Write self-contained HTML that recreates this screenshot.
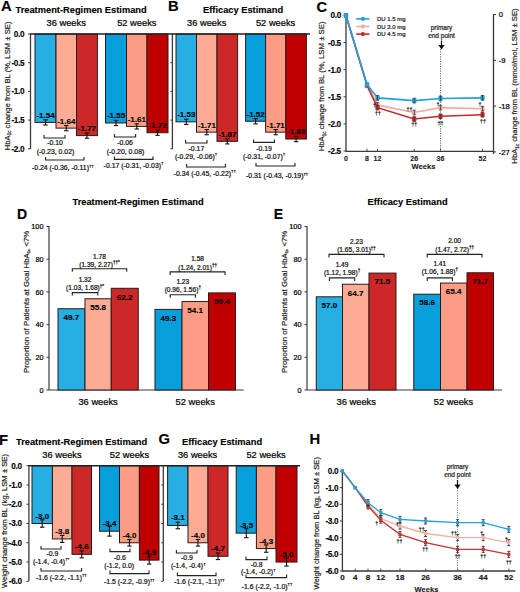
<!DOCTYPE html>
<html><head><meta charset="utf-8"><style>
html,body{margin:0;padding:0;background:#fff;}
svg{display:block;font-family:"Liberation Sans", sans-serif;}
</style></head><body>
<svg width="520" height="592" viewBox="0 0 520 592">
<rect x="0" y="0" width="520" height="592" fill="#fff"/>
<text x="1" y="11.2" font-size="14.8" font-weight="bold" text-anchor="start" fill="#000" stroke="#000" stroke-width="0.12" >A</text>
<text x="15.5" y="12.6" font-size="9.3" font-weight="bold" text-anchor="start" fill="#000" stroke="#000" stroke-width="0.12" >Treatment-Regimen Estimand</text>
<text x="66.2" y="25.6" font-size="9.3" font-weight="normal" text-anchor="middle" fill="#000" stroke="#000" stroke-width="0.22" >36 weeks</text>
<text x="136.8" y="25.6" font-size="9.3" font-weight="normal" text-anchor="middle" fill="#000" stroke="#000" stroke-width="0.22" >52 weeks</text>
<text x="0" y="0" transform="translate(9.6,85.9) rotate(-90)" font-size="7.7" font-weight="normal" text-anchor="middle" fill="#222" stroke="#222" stroke-width="0.2">HbA<tspan font-size="4.5" dy="1.5">1c</tspan><tspan dy="-1.5"> change from BL (%, LSM ± SE)</tspan></text>
<line x1="30.5" y1="33.5" x2="30.5" y2="149" stroke="#3a3a3a" stroke-width="1.3" />
<line x1="28.0" y1="34.0" x2="30.5" y2="34.0" stroke="#3a3a3a" stroke-width="1" />
<text x="24.3" y="36.9" font-size="8.2" font-weight="bold" text-anchor="end" fill="#000" stroke="#000" stroke-width="0.12" letter-spacing="-0.3">0.0</text>
<line x1="28.0" y1="62.7" x2="30.5" y2="62.7" stroke="#3a3a3a" stroke-width="1" />
<text x="24.3" y="65.60000000000001" font-size="8.2" font-weight="bold" text-anchor="end" fill="#000" stroke="#000" stroke-width="0.12" letter-spacing="-0.3">-0.5</text>
<line x1="28.0" y1="91.4" x2="30.5" y2="91.4" stroke="#3a3a3a" stroke-width="1" />
<text x="24.3" y="94.30000000000001" font-size="8.2" font-weight="bold" text-anchor="end" fill="#000" stroke="#000" stroke-width="0.12" letter-spacing="-0.3">-1.0</text>
<line x1="28.0" y1="120.1" x2="30.5" y2="120.1" stroke="#3a3a3a" stroke-width="1" />
<text x="24.3" y="123.0" font-size="8.2" font-weight="bold" text-anchor="end" fill="#000" stroke="#000" stroke-width="0.12" letter-spacing="-0.3">-1.5</text>
<line x1="28.0" y1="148.8" x2="30.5" y2="148.8" stroke="#3a3a3a" stroke-width="1" />
<text x="24.3" y="151.70000000000002" font-size="8.2" font-weight="bold" text-anchor="end" fill="#000" stroke="#000" stroke-width="0.12" letter-spacing="-0.3">-2.0</text>
<rect x="35" y="34" width="21" height="88.396" fill="#27aee3" stroke="#2a1a1a" stroke-width="1"/>
<rect x="56" y="34" width="20.5" height="94.136" fill="#fcac94" stroke="#2a1a1a" stroke-width="1"/>
<rect x="76.5" y="34" width="20.900000000000006" height="101.59800000000001" fill="#cc2828" stroke="#2a1a1a" stroke-width="1"/>
<text x="45.5" y="117.796" font-size="8.0" font-weight="bold" text-anchor="middle" fill="#000" stroke="#000" stroke-width="0.12" >-1.54</text>
<line x1="45.5" y1="119.796" x2="45.5" y2="124.996" stroke="#111" stroke-width="1.1" />
<line x1="43.3" y1="119.796" x2="47.7" y2="119.796" stroke="#111" stroke-width="1.1" />
<line x1="43.3" y1="124.996" x2="47.7" y2="124.996" stroke="#111" stroke-width="1.1" />
<text x="66.25" y="123.536" font-size="8.0" font-weight="bold" text-anchor="middle" fill="#000" stroke="#000" stroke-width="0.12" >-1.64</text>
<line x1="66.25" y1="125.536" x2="66.25" y2="130.736" stroke="#111" stroke-width="1.1" />
<line x1="64.05" y1="125.536" x2="68.45" y2="125.536" stroke="#111" stroke-width="1.1" />
<line x1="64.05" y1="130.736" x2="68.45" y2="130.736" stroke="#111" stroke-width="1.1" />
<text x="86.95" y="130.99800000000002" font-size="8.0" font-weight="bold" text-anchor="middle" fill="#000" stroke="#000" stroke-width="0.12" >-1.77</text>
<line x1="86.95" y1="132.99800000000002" x2="86.95" y2="138.198" stroke="#111" stroke-width="1.1" />
<line x1="84.75" y1="132.99800000000002" x2="89.15" y2="132.99800000000002" stroke="#111" stroke-width="1.1" />
<line x1="84.75" y1="138.198" x2="89.15" y2="138.198" stroke="#111" stroke-width="1.1" />
<rect x="105.5" y="34" width="21.0" height="88.97" fill="#069fdc" stroke="#2a1a1a" stroke-width="1"/>
<rect x="126.5" y="34" width="20.5" height="92.414" fill="#fc9c84" stroke="#2a1a1a" stroke-width="1"/>
<rect x="147" y="34" width="21" height="98.72800000000001" fill="#c00000" stroke="#2a1a1a" stroke-width="1"/>
<text x="116.0" y="118.37" font-size="8.0" font-weight="bold" text-anchor="middle" fill="#000" stroke="#000" stroke-width="0.12" >-1.55</text>
<line x1="116.0" y1="120.37" x2="116.0" y2="125.57" stroke="#111" stroke-width="1.1" />
<line x1="113.8" y1="120.37" x2="118.2" y2="120.37" stroke="#111" stroke-width="1.1" />
<line x1="113.8" y1="125.57" x2="118.2" y2="125.57" stroke="#111" stroke-width="1.1" />
<text x="136.75" y="121.81400000000001" font-size="8.0" font-weight="bold" text-anchor="middle" fill="#000" stroke="#000" stroke-width="0.12" >-1.61</text>
<line x1="136.75" y1="123.81400000000001" x2="136.75" y2="129.014" stroke="#111" stroke-width="1.1" />
<line x1="134.55" y1="123.81400000000001" x2="138.95" y2="123.81400000000001" stroke="#111" stroke-width="1.1" />
<line x1="134.55" y1="129.014" x2="138.95" y2="129.014" stroke="#111" stroke-width="1.1" />
<text x="157.5" y="128.12800000000001" font-size="8.0" font-weight="bold" text-anchor="middle" fill="#000" stroke="#000" stroke-width="0.12" >-1.72</text>
<line x1="157.5" y1="130.12800000000001" x2="157.5" y2="135.328" stroke="#111" stroke-width="1.1" />
<line x1="155.3" y1="130.12800000000001" x2="159.7" y2="130.12800000000001" stroke="#111" stroke-width="1.1" />
<line x1="155.3" y1="135.328" x2="159.7" y2="135.328" stroke="#111" stroke-width="1.1" />
<line x1="30.5" y1="34" x2="172.4" y2="34" stroke="#222" stroke-width="1.6" />
<path d="M44 135 V138 H65 V135" fill="none" stroke="#222" stroke-width="1.1"/>
<text x="55" y="145" font-size="6.9" font-weight="normal" text-anchor="middle" fill="#111" stroke="#111" stroke-width="0.22" >-0.10</text>
<text x="55.5" y="154" font-size="6.9" font-weight="normal" text-anchor="middle" fill="#111" stroke="#111" stroke-width="0.22" >(-0.23, 0.02)</text>
<path d="M45.6 157 V160 H84 V157" fill="none" stroke="#222" stroke-width="1.1"/>
<text x="32" y="170" font-size="6.9" font-weight="normal" text-anchor="start" fill="#111" stroke="#111" stroke-width="0.22" >-0.24 (-0.36, -0.11)<tspan font-size="4.3" dy="-2.4">††</tspan></text>
<path d="M114.4 134 V137 H135.6 V134" fill="none" stroke="#222" stroke-width="1.1"/>
<text x="125" y="144.5" font-size="6.9" font-weight="normal" text-anchor="middle" fill="#111" stroke="#111" stroke-width="0.22" >-0.06</text>
<text x="125.5" y="153.5" font-size="6.9" font-weight="normal" text-anchor="middle" fill="#111" stroke="#111" stroke-width="0.22" >(-0.20, 0.08)</text>
<path d="M114.4 156.4 V159.4 H153 V156.4" fill="none" stroke="#222" stroke-width="1.1"/>
<text x="103.6" y="167.5" font-size="6.9" font-weight="normal" text-anchor="start" fill="#111" stroke="#111" stroke-width="0.22" >-0.17 (-0.31, -0.03)<tspan font-size="4.3" dy="-2.4">†</tspan></text>
<text x="168" y="11.2" font-size="14.8" font-weight="bold" text-anchor="start" fill="#000" stroke="#000" stroke-width="0.12" >B</text>
<text x="203" y="12.6" font-size="9.3" font-weight="bold" text-anchor="start" fill="#000" stroke="#000" stroke-width="0.12" >Efficacy Estimand</text>
<text x="206.7" y="25.6" font-size="9.3" font-weight="normal" text-anchor="middle" fill="#000" stroke="#000" stroke-width="0.22" >36 weeks</text>
<text x="275.6" y="25.6" font-size="9.3" font-weight="normal" text-anchor="middle" fill="#000" stroke="#000" stroke-width="0.22" >52 weeks</text>
<line x1="172.4" y1="33.5" x2="172.4" y2="149" stroke="#3a3a3a" stroke-width="1.3" />
<line x1="170.4" y1="62.7" x2="172.4" y2="62.7" stroke="#3a3a3a" stroke-width="1" />
<line x1="170.4" y1="91.4" x2="172.4" y2="91.4" stroke="#3a3a3a" stroke-width="1" />
<line x1="170.4" y1="120.1" x2="172.4" y2="120.1" stroke="#3a3a3a" stroke-width="1" />
<line x1="170.4" y1="148.8" x2="172.4" y2="148.8" stroke="#3a3a3a" stroke-width="1" />
<rect x="176" y="34" width="20.5" height="87.822" fill="#27aee3" stroke="#2a1a1a" stroke-width="1"/>
<rect x="196.5" y="34" width="20.5" height="98.154" fill="#fcac94" stroke="#2a1a1a" stroke-width="1"/>
<rect x="217" y="34" width="20.599999999999994" height="107.33800000000002" fill="#cc2828" stroke="#2a1a1a" stroke-width="1"/>
<text x="186.25" y="117.22200000000001" font-size="8.0" font-weight="bold" text-anchor="middle" fill="#000" stroke="#000" stroke-width="0.12" >-1.53</text>
<line x1="186.25" y1="119.22200000000001" x2="186.25" y2="124.422" stroke="#111" stroke-width="1.1" />
<line x1="184.05" y1="119.22200000000001" x2="188.45" y2="119.22200000000001" stroke="#111" stroke-width="1.1" />
<line x1="184.05" y1="124.422" x2="188.45" y2="124.422" stroke="#111" stroke-width="1.1" />
<text x="206.75" y="127.554" font-size="8.0" font-weight="bold" text-anchor="middle" fill="#000" stroke="#000" stroke-width="0.12" >-1.71</text>
<line x1="206.75" y1="129.554" x2="206.75" y2="134.754" stroke="#111" stroke-width="1.1" />
<line x1="204.55" y1="129.554" x2="208.95" y2="129.554" stroke="#111" stroke-width="1.1" />
<line x1="204.55" y1="134.754" x2="208.95" y2="134.754" stroke="#111" stroke-width="1.1" />
<text x="227.3" y="136.73800000000003" font-size="8.0" font-weight="bold" text-anchor="middle" fill="#000" stroke="#000" stroke-width="0.12" >-1.87</text>
<line x1="227.3" y1="138.73800000000003" x2="227.3" y2="143.93800000000002" stroke="#111" stroke-width="1.1" />
<line x1="225.10000000000002" y1="138.73800000000003" x2="229.5" y2="138.73800000000003" stroke="#111" stroke-width="1.1" />
<line x1="225.10000000000002" y1="143.93800000000002" x2="229.5" y2="143.93800000000002" stroke="#111" stroke-width="1.1" />
<rect x="245.6" y="34" width="20.00000000000003" height="87.248" fill="#069fdc" stroke="#2a1a1a" stroke-width="1"/>
<rect x="265.6" y="34" width="20.19999999999999" height="98.154" fill="#fc9c84" stroke="#2a1a1a" stroke-width="1"/>
<rect x="285.8" y="34" width="20.599999999999966" height="105.042" fill="#c00000" stroke="#2a1a1a" stroke-width="1"/>
<text x="255.60000000000002" y="116.64800000000001" font-size="8.0" font-weight="bold" text-anchor="middle" fill="#000" stroke="#000" stroke-width="0.12" >-1.52</text>
<line x1="255.60000000000002" y1="118.64800000000001" x2="255.60000000000002" y2="123.848" stroke="#111" stroke-width="1.1" />
<line x1="253.40000000000003" y1="118.64800000000001" x2="257.8" y2="118.64800000000001" stroke="#111" stroke-width="1.1" />
<line x1="253.40000000000003" y1="123.848" x2="257.8" y2="123.848" stroke="#111" stroke-width="1.1" />
<text x="275.70000000000005" y="127.554" font-size="8.0" font-weight="bold" text-anchor="middle" fill="#000" stroke="#000" stroke-width="0.12" >-1.71</text>
<line x1="275.70000000000005" y1="129.554" x2="275.70000000000005" y2="134.754" stroke="#111" stroke-width="1.1" />
<line x1="273.50000000000006" y1="129.554" x2="277.90000000000003" y2="129.554" stroke="#111" stroke-width="1.1" />
<line x1="273.50000000000006" y1="134.754" x2="277.90000000000003" y2="134.754" stroke="#111" stroke-width="1.1" />
<text x="296.1" y="134.442" font-size="8.0" font-weight="bold" text-anchor="middle" fill="#000" stroke="#000" stroke-width="0.12" >-1.83</text>
<line x1="296.1" y1="136.442" x2="296.1" y2="141.642" stroke="#111" stroke-width="1.1" />
<line x1="293.90000000000003" y1="136.442" x2="298.3" y2="136.442" stroke="#111" stroke-width="1.1" />
<line x1="293.90000000000003" y1="141.642" x2="298.3" y2="141.642" stroke="#111" stroke-width="1.1" />
<line x1="172.4" y1="34" x2="310" y2="34" stroke="#222" stroke-width="1.6" />
<path d="M185.6 140 V143 H207 V140" fill="none" stroke="#222" stroke-width="1.1"/>
<text x="196.4" y="150.5" font-size="6.9" font-weight="normal" text-anchor="middle" fill="#111" stroke="#111" stroke-width="0.22" >-0.17</text>
<text x="175" y="158.5" font-size="6.9" font-weight="normal" text-anchor="start" fill="#111" stroke="#111" stroke-width="0.22" >(-0.29, -0.06)<tspan font-size="4.3" dy="-2.4">†</tspan></text>
<path d="M186.6 164 V167 H225.4 V164" fill="none" stroke="#222" stroke-width="1.1"/>
<text x="173.6" y="175.5" font-size="6.9" font-weight="normal" text-anchor="start" fill="#111" stroke="#111" stroke-width="0.22" >-0.34 (-0.45, -0.22)<tspan font-size="4.3" dy="-2.4">††</tspan></text>
<path d="M253.6 139.4 V142.4 H274.4 V139.4" fill="none" stroke="#222" stroke-width="1.1"/>
<text x="264" y="150.5" font-size="6.9" font-weight="normal" text-anchor="middle" fill="#111" stroke="#111" stroke-width="0.22" >-0.19</text>
<text x="243" y="158.5" font-size="6.9" font-weight="normal" text-anchor="start" fill="#111" stroke="#111" stroke-width="0.22" >(-0.31, -0.07)<tspan font-size="4.3" dy="-2.4">†</tspan></text>
<path d="M256 163 V166 H295 V163" fill="none" stroke="#222" stroke-width="1.1"/>
<text x="246" y="178" font-size="6.9" font-weight="normal" text-anchor="start" fill="#111" stroke="#111" stroke-width="0.22" >-0.31 (-0.43, -0.19)<tspan font-size="4.3" dy="-2.4">††</tspan></text>
<text x="316.5" y="11.8" font-size="14.8" font-weight="bold" text-anchor="start" fill="#000" stroke="#000" stroke-width="0.12" >C</text>
<line x1="346" y1="15.0" x2="346" y2="151.8" stroke="#3a3a3a" stroke-width="1.3" />
<line x1="346" y1="151.4" x2="493.5" y2="151.4" stroke="#3a3a3a" stroke-width="1.3" />
<line x1="343.5" y1="15.5" x2="346" y2="15.5" stroke="#3a3a3a" stroke-width="1" />
<text x="340.9" y="18.4" font-size="8.2" font-weight="bold" text-anchor="end" fill="#000" stroke="#000" stroke-width="0.12" letter-spacing="-0.3">0.0</text>
<line x1="343.5" y1="42.6" x2="346" y2="42.6" stroke="#3a3a3a" stroke-width="1" />
<text x="340.9" y="45.5" font-size="8.2" font-weight="bold" text-anchor="end" fill="#000" stroke="#000" stroke-width="0.12" letter-spacing="-0.3">-0.5</text>
<line x1="343.5" y1="69.7" x2="346" y2="69.7" stroke="#3a3a3a" stroke-width="1" />
<text x="340.9" y="72.60000000000001" font-size="8.2" font-weight="bold" text-anchor="end" fill="#000" stroke="#000" stroke-width="0.12" letter-spacing="-0.3">-1.0</text>
<line x1="343.5" y1="96.80000000000001" x2="346" y2="96.80000000000001" stroke="#3a3a3a" stroke-width="1" />
<text x="340.9" y="99.70000000000002" font-size="8.2" font-weight="bold" text-anchor="end" fill="#000" stroke="#000" stroke-width="0.12" letter-spacing="-0.3">-1.5</text>
<line x1="343.5" y1="123.9" x2="346" y2="123.9" stroke="#3a3a3a" stroke-width="1" />
<text x="340.9" y="126.80000000000001" font-size="8.2" font-weight="bold" text-anchor="end" fill="#000" stroke="#000" stroke-width="0.12" letter-spacing="-0.3">-2.0</text>
<line x1="343.5" y1="151.0" x2="346" y2="151.0" stroke="#3a3a3a" stroke-width="1" />
<text x="340.9" y="153.9" font-size="8.2" font-weight="bold" text-anchor="end" fill="#000" stroke="#000" stroke-width="0.12" letter-spacing="-0.3">-2.5</text>
<text x="346.0" y="161" font-size="7" font-weight="bold" text-anchor="middle" fill="#222" stroke="#222" stroke-width="0.12" >0</text>
<line x1="367.0" y1="148.8" x2="367.0" y2="151.4" stroke="#3a3a3a" stroke-width="0.9" />
<text x="367.0" y="161" font-size="7" font-weight="bold" text-anchor="middle" fill="#222" stroke="#222" stroke-width="0.12" >8</text>
<line x1="377.5" y1="148.8" x2="377.5" y2="151.4" stroke="#3a3a3a" stroke-width="0.9" />
<text x="377.5" y="161" font-size="7" font-weight="bold" text-anchor="middle" fill="#222" stroke="#222" stroke-width="0.12" >12</text>
<line x1="414.25" y1="148.8" x2="414.25" y2="151.4" stroke="#3a3a3a" stroke-width="0.9" />
<text x="414.25" y="161" font-size="7" font-weight="bold" text-anchor="middle" fill="#222" stroke="#222" stroke-width="0.12" >26</text>
<line x1="440.5" y1="148.8" x2="440.5" y2="151.4" stroke="#3a3a3a" stroke-width="0.9" />
<text x="440.5" y="161" font-size="7" font-weight="bold" text-anchor="middle" fill="#222" stroke="#222" stroke-width="0.12" >36</text>
<line x1="482.5" y1="148.8" x2="482.5" y2="151.4" stroke="#3a3a3a" stroke-width="0.9" />
<text x="482.5" y="161" font-size="7" font-weight="bold" text-anchor="middle" fill="#222" stroke="#222" stroke-width="0.12" >52</text>
<text x="423.5" y="168.8" font-size="7.6" font-weight="bold" text-anchor="middle" fill="#222" stroke="#222" stroke-width="0.12" >Weeks</text>
<text x="0" y="0" transform="translate(324,86.4) rotate(-90)" font-size="7.75" font-weight="normal" text-anchor="middle" fill="#222" stroke="#222" stroke-width="0.2">HbA<tspan font-size="4.5" dy="1.5">1c</tspan><tspan dy="-1.5"> change from BL (%, LSM ± SE)</tspan></text>
<line x1="493.5" y1="14" x2="493.5" y2="154" stroke="#3a3a3a" stroke-width="1.3" />
<line x1="493.5" y1="14.5" x2="496" y2="14.5" stroke="#3a3a3a" stroke-width="1" />
<text x="498.8" y="17.2" font-size="7.6" font-weight="normal" text-anchor="start" fill="#000" stroke="#000" stroke-width="0.22" >0</text>
<line x1="493.5" y1="60.3" x2="496" y2="60.3" stroke="#3a3a3a" stroke-width="1" />
<text x="498.8" y="63.0" font-size="7.6" font-weight="normal" text-anchor="start" fill="#000" stroke="#000" stroke-width="0.22" >-9</text>
<line x1="493.5" y1="106.1" x2="496" y2="106.1" stroke="#3a3a3a" stroke-width="1" />
<text x="498.8" y="108.8" font-size="7.6" font-weight="normal" text-anchor="start" fill="#000" stroke="#000" stroke-width="0.22" >-18</text>
<line x1="493.5" y1="151.89999999999998" x2="496" y2="151.89999999999998" stroke="#3a3a3a" stroke-width="1" />
<text x="498.8" y="154.59999999999997" font-size="7.6" font-weight="normal" text-anchor="start" fill="#000" stroke="#000" stroke-width="0.22" >-27</text>
<text x="0" y="0" transform="translate(517.3,86) rotate(-90)" font-size="7.7" font-weight="normal" text-anchor="middle" fill="#222" stroke="#222" stroke-width="0.2">HbA<tspan font-size="4.5" dy="1.5">1c</tspan><tspan dy="-1.5"> change from BL (mmol/mol, LSM ± SE)</tspan></text>
<line x1="440.5" y1="49" x2="440.5" y2="151" stroke="#3a6ea0" stroke-width="0.9" stroke-dasharray="1.2,1.2"/>
<text x="441.5" y="30" font-size="6.5" font-weight="normal" text-anchor="middle" fill="#222" stroke="#222" stroke-width="0.22" >primary</text>
<text x="441.5" y="38" font-size="6.5" font-weight="normal" text-anchor="middle" fill="#222" stroke="#222" stroke-width="0.22" >end point</text>
<line x1="441.5" y1="40.5" x2="441.5" y2="46" stroke="#111" stroke-width="1.2" />
<path d="M438.3 45 L444.7 45 L441.5 49.5 Z" fill="#111"/>
<polyline points="346.00,15.50 367.00,84.88 377.50,104.93 414.25,112.52 440.50,107.64 482.50,108.72" fill="none" stroke="#f2a8a0" stroke-width="1.6"/>
<rect x="343.9" y="13.2" width="4.2" height="4.6" fill="#f2a8a0"/>
<rect x="364.9" y="82.57600000000001" width="4.2" height="4.6" fill="#f2a8a0"/>
<rect x="375.4" y="102.63000000000001" width="4.2" height="4.6" fill="#f2a8a0"/>
<line x1="377.5" y1="102.53" x2="377.5" y2="107.33000000000001" stroke="#3a3a3a" stroke-width="0.8" />
<line x1="376.0" y1="102.53" x2="379.0" y2="102.53" stroke="#3a3a3a" stroke-width="0.8" />
<line x1="376.0" y1="107.33000000000001" x2="379.0" y2="107.33000000000001" stroke="#3a3a3a" stroke-width="0.8" />
<rect x="412.15" y="110.218" width="4.2" height="4.6" fill="#f2a8a0"/>
<line x1="414.25" y1="110.118" x2="414.25" y2="114.918" stroke="#3a3a3a" stroke-width="0.8" />
<line x1="412.75" y1="110.118" x2="415.75" y2="110.118" stroke="#3a3a3a" stroke-width="0.8" />
<line x1="412.75" y1="114.918" x2="415.75" y2="114.918" stroke="#3a3a3a" stroke-width="0.8" />
<rect x="438.4" y="105.34" width="4.2" height="4.6" fill="#f2a8a0"/>
<line x1="440.5" y1="105.24" x2="440.5" y2="110.04" stroke="#3a3a3a" stroke-width="0.8" />
<line x1="439.0" y1="105.24" x2="442.0" y2="105.24" stroke="#3a3a3a" stroke-width="0.8" />
<line x1="439.0" y1="110.04" x2="442.0" y2="110.04" stroke="#3a3a3a" stroke-width="0.8" />
<rect x="480.4" y="106.424" width="4.2" height="4.6" fill="#f2a8a0"/>
<line x1="482.5" y1="106.324" x2="482.5" y2="111.12400000000001" stroke="#3a3a3a" stroke-width="0.8" />
<line x1="481.0" y1="106.324" x2="484.0" y2="106.324" stroke="#3a3a3a" stroke-width="0.8" />
<line x1="481.0" y1="111.12400000000001" x2="484.0" y2="111.12400000000001" stroke="#3a3a3a" stroke-width="0.8" />
<polyline points="346.00,15.50 367.00,85.42 377.50,107.64 414.25,119.02 440.50,116.31 482.50,114.69" fill="none" stroke="#c82828" stroke-width="1.6"/>
<rect x="343.9" y="13.2" width="4.2" height="4.6" fill="#c82828"/>
<rect x="364.9" y="83.11800000000001" width="4.2" height="4.6" fill="#c82828"/>
<rect x="375.4" y="105.34" width="4.2" height="4.6" fill="#c82828"/>
<line x1="377.5" y1="105.24" x2="377.5" y2="110.04" stroke="#3a3a3a" stroke-width="0.8" />
<line x1="376.0" y1="105.24" x2="379.0" y2="105.24" stroke="#3a3a3a" stroke-width="0.8" />
<line x1="376.0" y1="110.04" x2="379.0" y2="110.04" stroke="#3a3a3a" stroke-width="0.8" />
<rect x="412.15" y="116.72200000000001" width="4.2" height="4.6" fill="#c82828"/>
<line x1="414.25" y1="116.622" x2="414.25" y2="121.42200000000001" stroke="#3a3a3a" stroke-width="0.8" />
<line x1="412.75" y1="116.622" x2="415.75" y2="116.622" stroke="#3a3a3a" stroke-width="0.8" />
<line x1="412.75" y1="121.42200000000001" x2="415.75" y2="121.42200000000001" stroke="#3a3a3a" stroke-width="0.8" />
<rect x="438.4" y="114.01200000000001" width="4.2" height="4.6" fill="#c82828"/>
<line x1="440.5" y1="113.912" x2="440.5" y2="118.71200000000002" stroke="#3a3a3a" stroke-width="0.8" />
<line x1="439.0" y1="113.912" x2="442.0" y2="113.912" stroke="#3a3a3a" stroke-width="0.8" />
<line x1="439.0" y1="118.71200000000002" x2="442.0" y2="118.71200000000002" stroke="#3a3a3a" stroke-width="0.8" />
<rect x="480.4" y="112.38600000000001" width="4.2" height="4.6" fill="#c82828"/>
<line x1="482.5" y1="112.286" x2="482.5" y2="117.08600000000001" stroke="#3a3a3a" stroke-width="0.8" />
<line x1="481.0" y1="112.286" x2="484.0" y2="112.286" stroke="#3a3a3a" stroke-width="0.8" />
<line x1="481.0" y1="117.08600000000001" x2="484.0" y2="117.08600000000001" stroke="#3a3a3a" stroke-width="0.8" />
<polyline points="346.00,15.50 367.00,84.33 377.50,97.88 414.25,100.59 440.50,98.43 482.50,97.88" fill="none" stroke="#22a0d8" stroke-width="1.6"/>
<rect x="343.9" y="13.2" width="4.2" height="4.6" fill="#22a0d8"/>
<rect x="364.9" y="82.034" width="4.2" height="4.6" fill="#22a0d8"/>
<rect x="375.4" y="95.584" width="4.2" height="4.6" fill="#22a0d8"/>
<line x1="377.5" y1="95.484" x2="377.5" y2="100.284" stroke="#3a3a3a" stroke-width="0.8" />
<line x1="376.0" y1="95.484" x2="379.0" y2="95.484" stroke="#3a3a3a" stroke-width="0.8" />
<line x1="376.0" y1="100.284" x2="379.0" y2="100.284" stroke="#3a3a3a" stroke-width="0.8" />
<rect x="412.15" y="98.29400000000001" width="4.2" height="4.6" fill="#22a0d8"/>
<line x1="414.25" y1="98.194" x2="414.25" y2="102.99400000000001" stroke="#3a3a3a" stroke-width="0.8" />
<line x1="412.75" y1="98.194" x2="415.75" y2="98.194" stroke="#3a3a3a" stroke-width="0.8" />
<line x1="412.75" y1="102.99400000000001" x2="415.75" y2="102.99400000000001" stroke="#3a3a3a" stroke-width="0.8" />
<rect x="438.4" y="96.126" width="4.2" height="4.6" fill="#22a0d8"/>
<line x1="440.5" y1="96.026" x2="440.5" y2="100.82600000000001" stroke="#3a3a3a" stroke-width="0.8" />
<line x1="439.0" y1="96.026" x2="442.0" y2="96.026" stroke="#3a3a3a" stroke-width="0.8" />
<line x1="439.0" y1="100.82600000000001" x2="442.0" y2="100.82600000000001" stroke="#3a3a3a" stroke-width="0.8" />
<rect x="480.4" y="95.584" width="4.2" height="4.6" fill="#22a0d8"/>
<line x1="482.5" y1="95.484" x2="482.5" y2="100.284" stroke="#3a3a3a" stroke-width="0.8" />
<line x1="481.0" y1="95.484" x2="484.0" y2="95.484" stroke="#3a3a3a" stroke-width="0.8" />
<line x1="481.0" y1="100.284" x2="484.0" y2="100.284" stroke="#3a3a3a" stroke-width="0.8" />
<text x="374.5" y="107" font-size="5.2" font-weight="normal" text-anchor="middle" fill="#222" stroke="#222" stroke-width="0.22" >†</text>
<text x="378" y="114.5" font-size="5.2" font-weight="normal" text-anchor="middle" fill="#222" stroke="#222" stroke-width="0.22" >††</text>
<text x="409.5" y="110.5" font-size="5.2" font-weight="normal" text-anchor="middle" fill="#222" stroke="#222" stroke-width="0.22" >††</text>
<text x="414.3" y="125.5" font-size="5.2" font-weight="normal" text-anchor="middle" fill="#222" stroke="#222" stroke-width="0.22" >††</text>
<text x="438" y="105.5" font-size="5.2" font-weight="normal" text-anchor="middle" fill="#222" stroke="#222" stroke-width="0.22" >†</text>
<text x="440.5" y="124.5" font-size="5.2" font-weight="normal" text-anchor="middle" fill="#222" stroke="#222" stroke-width="0.22" >††</text>
<text x="480" y="105.5" font-size="5.2" font-weight="normal" text-anchor="middle" fill="#222" stroke="#222" stroke-width="0.22" >†</text>
<text x="483" y="122.5" font-size="5.2" font-weight="normal" text-anchor="middle" fill="#222" stroke="#222" stroke-width="0.22" >††</text>
<line x1="356.2" y1="18.9" x2="369.4" y2="18.9" stroke="#22a0d8" stroke-width="1.6" />
<circle cx="362.9" cy="18.9" r="2.1" fill="#22a0d8"/>
<text x="377" y="21.0" font-size="6" font-weight="normal" text-anchor="start" fill="#222" stroke="#222" stroke-width="0.22" >DU 1.5 mg</text>
<line x1="356.2" y1="26.5" x2="369.4" y2="26.5" stroke="#f2a8a0" stroke-width="1.6" />
<circle cx="362.9" cy="26.5" r="2.1" fill="#f2a8a0"/>
<text x="377" y="28.6" font-size="6" font-weight="normal" text-anchor="start" fill="#222" stroke="#222" stroke-width="0.22" >DU 3.0 mg</text>
<line x1="356.2" y1="34.099999999999994" x2="369.4" y2="34.099999999999994" stroke="#c82828" stroke-width="1.6" />
<circle cx="362.9" cy="34.099999999999994" r="2.1" fill="#c82828"/>
<text x="377" y="36.199999999999996" font-size="6" font-weight="normal" text-anchor="start" fill="#222" stroke="#222" stroke-width="0.22" >DU 4.5 mg</text>
<text x="72.5" y="205" font-size="9.3" font-weight="bold" text-anchor="start" fill="#000" stroke="#000" stroke-width="0.12" >Treatment-Regimen Estimand</text>
<text x="17" y="218.75" font-size="14" font-weight="bold" text-anchor="start" fill="#000" stroke="#000" stroke-width="0.12" >D</text>
<line x1="49" y1="226" x2="49" y2="390" stroke="#3a3a3a" stroke-width="1.2" />
<line x1="49" y1="390" x2="243.75" y2="390" stroke="#3a3a3a" stroke-width="1.2" />
<line x1="46.5" y1="390.0" x2="49" y2="390.0" stroke="#3a3a3a" stroke-width="1" />
<text x="43.5" y="392.6" font-size="7.3" font-weight="normal" text-anchor="end" fill="#000" stroke="#000" stroke-width="0.22" >0</text>
<line x1="46.5" y1="357.3" x2="49" y2="357.3" stroke="#3a3a3a" stroke-width="1" />
<text x="43.5" y="359.90000000000003" font-size="7.3" font-weight="normal" text-anchor="end" fill="#000" stroke="#000" stroke-width="0.22" >20</text>
<line x1="46.5" y1="324.6" x2="49" y2="324.6" stroke="#3a3a3a" stroke-width="1" />
<text x="43.5" y="327.20000000000005" font-size="7.3" font-weight="normal" text-anchor="end" fill="#000" stroke="#000" stroke-width="0.22" >40</text>
<line x1="46.5" y1="291.9" x2="49" y2="291.9" stroke="#3a3a3a" stroke-width="1" />
<text x="43.5" y="294.5" font-size="7.3" font-weight="normal" text-anchor="end" fill="#000" stroke="#000" stroke-width="0.22" >60</text>
<line x1="46.5" y1="259.2" x2="49" y2="259.2" stroke="#3a3a3a" stroke-width="1" />
<text x="43.5" y="261.8" font-size="7.3" font-weight="normal" text-anchor="end" fill="#000" stroke="#000" stroke-width="0.22" >80</text>
<line x1="46.5" y1="226.5" x2="49" y2="226.5" stroke="#3a3a3a" stroke-width="1" />
<text x="43.5" y="229.1" font-size="7.3" font-weight="normal" text-anchor="end" fill="#000" stroke="#000" stroke-width="0.22" >100</text>
<text x="0" y="0" transform="translate(28.6,301.8) rotate(-90)" font-size="7.8" font-weight="normal" text-anchor="middle" fill="#222" stroke="#222" stroke-width="0.2">Proportion of  Patients at Goal HbA<tspan font-size="4.3" dy="1.5">1c</tspan><tspan dy="-1.5"> &lt;7%</tspan></text>
<rect x="58" y="308.7405" width="27" height="81.2595" fill="#27aee3" stroke="#2a1a1a" stroke-width="1"/>
<text x="71.5" y="320.0405" font-size="8.1" font-weight="bold" text-anchor="middle" fill="#000" stroke="#000" stroke-width="0.12" >49.7</text>
<rect x="85" y="298.767" width="26.25" height="91.233" fill="#fcac94" stroke="#2a1a1a" stroke-width="1"/>
<text x="98.125" y="310.067" font-size="8.1" font-weight="bold" text-anchor="middle" fill="#000" stroke="#000" stroke-width="0.12" >55.8</text>
<rect x="111.25" y="288.303" width="27.0" height="101.697" fill="#cc2828" stroke="#2a1a1a" stroke-width="1"/>
<text x="124.75" y="299.603" font-size="8.1" font-weight="bold" text-anchor="middle" fill="#000" stroke="#000" stroke-width="0.12" >62.2</text>
<rect x="155" y="309.3945" width="27" height="80.6055" fill="#069fdc" stroke="#2a1a1a" stroke-width="1"/>
<text x="168.5" y="320.6945" font-size="8.1" font-weight="bold" text-anchor="middle" fill="#000" stroke="#000" stroke-width="0.12" >49.3</text>
<rect x="182" y="301.5465" width="26.5" height="88.45350000000002" fill="#fc9c84" stroke="#2a1a1a" stroke-width="1"/>
<text x="195.25" y="312.8465" font-size="8.1" font-weight="bold" text-anchor="middle" fill="#000" stroke="#000" stroke-width="0.12" >54.1</text>
<rect x="208.5" y="292.881" width="27.0" height="97.11900000000003" fill="#c00000" stroke="#2a1a1a" stroke-width="1"/>
<text x="222.0" y="304.181" font-size="8.1" font-weight="bold" text-anchor="middle" fill="#000" stroke="#000" stroke-width="0.12" >59.4</text>
<text x="98.1" y="405" font-size="9.3" font-weight="normal" text-anchor="middle" fill="#000" stroke="#000" stroke-width="0.22" >36 weeks</text>
<text x="195.25" y="405" font-size="9.3" font-weight="normal" text-anchor="middle" fill="#000" stroke="#000" stroke-width="0.22" >52 weeks</text>
<path d="M72.3 271.8 V268.8 H126.7 V271.8" fill="none" stroke="#222" stroke-width="1.1"/>
<text x="99.5" y="258.7" font-size="6.6" font-weight="normal" text-anchor="middle" fill="#111" stroke="#111" stroke-width="0.22" >1.78</text>
<text x="99.5" y="266.6" font-size="6.6" font-weight="normal" text-anchor="middle" fill="#111" stroke="#111" stroke-width="0.22" >(1.39, 2.27)<tspan font-size="4.5" dy="-2.4">††*</tspan><tspan dy="2.4"></tspan></text>
<path d="M72.3 295.6 V292.6 H97.8 V295.6" fill="none" stroke="#222" stroke-width="1.1"/>
<text x="85.05" y="281.7" font-size="6.6" font-weight="normal" text-anchor="middle" fill="#111" stroke="#111" stroke-width="0.22" >1.32</text>
<text x="85.05" y="290.4" font-size="6.6" font-weight="normal" text-anchor="middle" fill="#111" stroke="#111" stroke-width="0.22" >(1.03, 1.68)<tspan font-size="4.5" dy="-2.4">†*</tspan><tspan dy="2.4"></tspan></text>
<path d="M170.2 274.9 V271.9 H225 V274.9" fill="none" stroke="#222" stroke-width="1.1"/>
<text x="197.6" y="261.3" font-size="6.6" font-weight="normal" text-anchor="middle" fill="#111" stroke="#111" stroke-width="0.22" >1.58</text>
<text x="197.6" y="269.5" font-size="6.6" font-weight="normal" text-anchor="middle" fill="#111" stroke="#111" stroke-width="0.22" >(1.24, 2.01)<tspan font-size="4.5" dy="-2.4">††</tspan><tspan dy="2.4"></tspan></text>
<path d="M170.2 297.7 V294.7 H195.4 V297.7" fill="none" stroke="#222" stroke-width="1.1"/>
<text x="182.8" y="283.9" font-size="6.6" font-weight="normal" text-anchor="middle" fill="#111" stroke="#111" stroke-width="0.22" >1.23</text>
<text x="182.8" y="291.8" font-size="6.6" font-weight="normal" text-anchor="middle" fill="#111" stroke="#111" stroke-width="0.22" >(0.96, 1.56)<tspan font-size="4.5" dy="-2.4">†</tspan><tspan dy="2.4"></tspan></text>
<text x="367.5" y="205" font-size="9.3" font-weight="bold" text-anchor="start" fill="#000" stroke="#000" stroke-width="0.12" >Efficacy Estimand</text>
<text x="273.75" y="218.75" font-size="14" font-weight="bold" text-anchor="start" fill="#000" stroke="#000" stroke-width="0.12" >E</text>
<line x1="307" y1="226" x2="307" y2="390" stroke="#3a3a3a" stroke-width="1.2" />
<line x1="307" y1="390" x2="502" y2="390" stroke="#3a3a3a" stroke-width="1.2" />
<line x1="304.5" y1="390.0" x2="307" y2="390.0" stroke="#3a3a3a" stroke-width="1" />
<text x="301.5" y="392.6" font-size="7.3" font-weight="normal" text-anchor="end" fill="#000" stroke="#000" stroke-width="0.22" >0</text>
<line x1="304.5" y1="357.3" x2="307" y2="357.3" stroke="#3a3a3a" stroke-width="1" />
<text x="301.5" y="359.90000000000003" font-size="7.3" font-weight="normal" text-anchor="end" fill="#000" stroke="#000" stroke-width="0.22" >20</text>
<line x1="304.5" y1="324.6" x2="307" y2="324.6" stroke="#3a3a3a" stroke-width="1" />
<text x="301.5" y="327.20000000000005" font-size="7.3" font-weight="normal" text-anchor="end" fill="#000" stroke="#000" stroke-width="0.22" >40</text>
<line x1="304.5" y1="291.9" x2="307" y2="291.9" stroke="#3a3a3a" stroke-width="1" />
<text x="301.5" y="294.5" font-size="7.3" font-weight="normal" text-anchor="end" fill="#000" stroke="#000" stroke-width="0.22" >60</text>
<line x1="304.5" y1="259.2" x2="307" y2="259.2" stroke="#3a3a3a" stroke-width="1" />
<text x="301.5" y="261.8" font-size="7.3" font-weight="normal" text-anchor="end" fill="#000" stroke="#000" stroke-width="0.22" >80</text>
<line x1="304.5" y1="226.5" x2="307" y2="226.5" stroke="#3a3a3a" stroke-width="1" />
<text x="301.5" y="229.1" font-size="7.3" font-weight="normal" text-anchor="end" fill="#000" stroke="#000" stroke-width="0.22" >100</text>
<text x="0" y="0" transform="translate(286.8,301.8) rotate(-90)" font-size="7.8" font-weight="normal" text-anchor="middle" fill="#222" stroke="#222" stroke-width="0.2">Proportion of  Patients at Goal HbA<tspan font-size="4.3" dy="1.5">1c</tspan><tspan dy="-1.5"> &lt;7%</tspan></text>
<rect x="316.25" y="296.805" width="26.25" height="93.195" fill="#27aee3" stroke="#2a1a1a" stroke-width="1"/>
<text x="329.375" y="308.105" font-size="8.1" font-weight="bold" text-anchor="middle" fill="#000" stroke="#000" stroke-width="0.12" >57.0</text>
<rect x="342.5" y="284.2155" width="26.5" height="105.78449999999998" fill="#fcac94" stroke="#2a1a1a" stroke-width="1"/>
<text x="355.75" y="295.51550000000003" font-size="8.1" font-weight="bold" text-anchor="middle" fill="#000" stroke="#000" stroke-width="0.12" >64.7</text>
<rect x="369" y="273.09749999999997" width="27" height="116.90250000000003" fill="#cc2828" stroke="#2a1a1a" stroke-width="1"/>
<text x="382.5" y="284.3975" font-size="8.1" font-weight="bold" text-anchor="middle" fill="#000" stroke="#000" stroke-width="0.12" >71.5</text>
<rect x="413.75" y="294.18899999999996" width="26.75" height="95.81100000000004" fill="#069fdc" stroke="#2a1a1a" stroke-width="1"/>
<text x="427.125" y="305.489" font-size="8.1" font-weight="bold" text-anchor="middle" fill="#000" stroke="#000" stroke-width="0.12" >58.6</text>
<rect x="440.5" y="283.07099999999997" width="26.5" height="106.92900000000003" fill="#fc9c84" stroke="#2a1a1a" stroke-width="1"/>
<text x="453.75" y="294.371" font-size="8.1" font-weight="bold" text-anchor="middle" fill="#000" stroke="#000" stroke-width="0.12" >65.4</text>
<rect x="467" y="272.77049999999997" width="26.5" height="117.22950000000003" fill="#c00000" stroke="#2a1a1a" stroke-width="1"/>
<text x="480.25" y="284.0705" font-size="8.1" font-weight="bold" text-anchor="middle" fill="#000" stroke="#000" stroke-width="0.12" >71.7</text>
<text x="356.25" y="405" font-size="9.3" font-weight="normal" text-anchor="middle" fill="#000" stroke="#000" stroke-width="0.22" >36 weeks</text>
<text x="453.5" y="405" font-size="9.3" font-weight="normal" text-anchor="middle" fill="#000" stroke="#000" stroke-width="0.22" >52 weeks</text>
<path d="M329 257.4 V254.4 H384 V257.4" fill="none" stroke="#222" stroke-width="1.1"/>
<text x="356.5" y="243.5" font-size="6.6" font-weight="normal" text-anchor="middle" fill="#111" stroke="#111" stroke-width="0.22" >2.23</text>
<text x="356.5" y="252.2" font-size="6.6" font-weight="normal" text-anchor="middle" fill="#111" stroke="#111" stroke-width="0.22" >(1.65, 3.01)<tspan font-size="4.5" dy="-2.4">††</tspan><tspan dy="2.4"></tspan></text>
<path d="M329.4 280.9 V277.9 H354.7 V280.9" fill="none" stroke="#222" stroke-width="1.1"/>
<text x="342.04999999999995" y="266.6" font-size="6.6" font-weight="normal" text-anchor="middle" fill="#111" stroke="#111" stroke-width="0.22" >1.49</text>
<text x="342.04999999999995" y="274.6" font-size="6.6" font-weight="normal" text-anchor="middle" fill="#111" stroke="#111" stroke-width="0.22" >(1.12, 1.98)<tspan font-size="4.5" dy="-2.4">†</tspan><tspan dy="2.4"></tspan></text>
<path d="M427.2 257.4 V254.4 H482 V257.4" fill="none" stroke="#222" stroke-width="1.1"/>
<text x="454.6" y="243.3" font-size="6.6" font-weight="normal" text-anchor="middle" fill="#111" stroke="#111" stroke-width="0.22" >2.00</text>
<text x="454.6" y="251.8" font-size="6.6" font-weight="normal" text-anchor="middle" fill="#111" stroke="#111" stroke-width="0.22" >(1.47, 2.72)<tspan font-size="4.5" dy="-2.4">††</tspan><tspan dy="2.4"></tspan></text>
<path d="M427.2 280.9 V277.9 H452.4 V280.9" fill="none" stroke="#222" stroke-width="1.1"/>
<text x="439.79999999999995" y="265.9" font-size="6.6" font-weight="normal" text-anchor="middle" fill="#111" stroke="#111" stroke-width="0.22" >1.41</text>
<text x="439.79999999999995" y="273.8" font-size="6.6" font-weight="normal" text-anchor="middle" fill="#111" stroke="#111" stroke-width="0.22" >(1.06, 1.88)<tspan font-size="4.5" dy="-2.4">†</tspan><tspan dy="2.4"></tspan></text>
<text x="-1" y="444.6" font-size="14.8" font-weight="bold" text-anchor="start" fill="#000" stroke="#000" stroke-width="0.12" >F</text>
<text x="16" y="445" font-size="9.3" font-weight="bold" text-anchor="start" fill="#000" stroke="#000" stroke-width="0.12" >Treatment-Regimen Estimand</text>
<text x="62" y="458" font-size="9.3" font-weight="normal" text-anchor="middle" fill="#000" stroke="#000" stroke-width="0.22" >36 weeks</text>
<text x="129.5" y="458" font-size="9.3" font-weight="normal" text-anchor="middle" fill="#000" stroke="#000" stroke-width="0.22" >52 weeks</text>
<text x="0" y="0" transform="translate(6.5,521) rotate(-90)" font-size="7.7" font-weight="normal" text-anchor="middle" fill="#222" stroke="#222" stroke-width="0.2">Weight change from BL (kg, LSM ± SE)</text>
<line x1="28.9" y1="465.2" x2="28.9" y2="581" stroke="#3a3a3a" stroke-width="1.3" />
<line x1="26.4" y1="465.7" x2="28.9" y2="465.7" stroke="#3a3a3a" stroke-width="1" />
<text x="21.7" y="468.59999999999997" font-size="8.2" font-weight="bold" text-anchor="end" fill="#000" stroke="#000" stroke-width="0.12" letter-spacing="-0.3">0.0</text>
<line x1="26.4" y1="484.96999999999997" x2="28.9" y2="484.96999999999997" stroke="#3a3a3a" stroke-width="1" />
<text x="21.7" y="487.86999999999995" font-size="8.2" font-weight="bold" text-anchor="end" fill="#000" stroke="#000" stroke-width="0.12" letter-spacing="-0.3">-1.0</text>
<line x1="26.4" y1="504.24" x2="28.9" y2="504.24" stroke="#3a3a3a" stroke-width="1" />
<text x="21.7" y="507.14" font-size="8.2" font-weight="bold" text-anchor="end" fill="#000" stroke="#000" stroke-width="0.12" letter-spacing="-0.3">-2.0</text>
<line x1="26.4" y1="523.51" x2="28.9" y2="523.51" stroke="#3a3a3a" stroke-width="1" />
<text x="21.7" y="526.41" font-size="8.2" font-weight="bold" text-anchor="end" fill="#000" stroke="#000" stroke-width="0.12" letter-spacing="-0.3">-3.0</text>
<line x1="26.4" y1="542.78" x2="28.9" y2="542.78" stroke="#3a3a3a" stroke-width="1" />
<text x="21.7" y="545.68" font-size="8.2" font-weight="bold" text-anchor="end" fill="#000" stroke="#000" stroke-width="0.12" letter-spacing="-0.3">-4.0</text>
<line x1="26.4" y1="562.05" x2="28.9" y2="562.05" stroke="#3a3a3a" stroke-width="1" />
<text x="21.7" y="564.9499999999999" font-size="8.2" font-weight="bold" text-anchor="end" fill="#000" stroke="#000" stroke-width="0.12" letter-spacing="-0.3">-5.0</text>
<line x1="26.4" y1="581.3199999999999" x2="28.9" y2="581.3199999999999" stroke="#3a3a3a" stroke-width="1" />
<text x="21.7" y="584.2199999999999" font-size="8.2" font-weight="bold" text-anchor="end" fill="#000" stroke="#000" stroke-width="0.12" letter-spacing="-0.3">-6.0</text>
<rect x="32" y="465.7" width="20.4" height="57.81" fill="#27aee3" stroke="#2a1a1a" stroke-width="1"/>
<rect x="52.4" y="465.7" width="19.6" height="73.22599999999994" fill="#fcac94" stroke="#2a1a1a" stroke-width="1"/>
<rect x="72" y="465.7" width="19.5" height="88.642" fill="#cc2828" stroke="#2a1a1a" stroke-width="1"/>
<text x="42.2" y="518.51" font-size="8.0" font-weight="bold" text-anchor="middle" fill="#000" stroke="#000" stroke-width="0.12" >-3.0</text>
<line x1="42.2" y1="519.81" x2="42.2" y2="527.21" stroke="#111" stroke-width="1.1" />
<line x1="40.0" y1="519.81" x2="44.400000000000006" y2="519.81" stroke="#111" stroke-width="1.1" />
<line x1="40.0" y1="527.21" x2="44.400000000000006" y2="527.21" stroke="#111" stroke-width="1.1" />
<text x="62.2" y="533.9259999999999" font-size="8.0" font-weight="bold" text-anchor="middle" fill="#000" stroke="#000" stroke-width="0.12" >-3.8</text>
<line x1="62.2" y1="535.4259999999999" x2="62.2" y2="542.4259999999999" stroke="#111" stroke-width="1.1" />
<line x1="60.0" y1="535.4259999999999" x2="64.4" y2="535.4259999999999" stroke="#111" stroke-width="1.1" />
<line x1="60.0" y1="542.4259999999999" x2="64.4" y2="542.4259999999999" stroke="#111" stroke-width="1.1" />
<text x="81.75" y="549.342" font-size="8.0" font-weight="bold" text-anchor="middle" fill="#000" stroke="#000" stroke-width="0.12" >-4.6</text>
<line x1="81.75" y1="550.842" x2="81.75" y2="557.842" stroke="#111" stroke-width="1.1" />
<line x1="79.55" y1="550.842" x2="83.95" y2="550.842" stroke="#111" stroke-width="1.1" />
<line x1="79.55" y1="557.842" x2="83.95" y2="557.842" stroke="#111" stroke-width="1.1" />
<rect x="99.5" y="465.7" width="20.0" height="65.51799999999997" fill="#069fdc" stroke="#2a1a1a" stroke-width="1"/>
<rect x="119.5" y="465.7" width="19.900000000000006" height="77.07999999999998" fill="#fc9c84" stroke="#2a1a1a" stroke-width="1"/>
<rect x="139.4" y="465.7" width="19.599999999999994" height="94.42300000000006" fill="#c00000" stroke="#2a1a1a" stroke-width="1"/>
<text x="109.5" y="526.218" font-size="8.0" font-weight="bold" text-anchor="middle" fill="#000" stroke="#000" stroke-width="0.12" >-3.4</text>
<line x1="109.5" y1="526.318" x2="109.5" y2="536.1179999999999" stroke="#111" stroke-width="1.1" />
<line x1="107.3" y1="526.318" x2="111.7" y2="526.318" stroke="#111" stroke-width="1.1" />
<line x1="107.3" y1="536.1179999999999" x2="111.7" y2="536.1179999999999" stroke="#111" stroke-width="1.1" />
<text x="129.45" y="537.78" font-size="8.0" font-weight="bold" text-anchor="middle" fill="#000" stroke="#000" stroke-width="0.12" >-4.0</text>
<line x1="129.45" y1="539.48" x2="129.45" y2="546.0799999999999" stroke="#111" stroke-width="1.1" />
<line x1="127.24999999999999" y1="539.48" x2="131.64999999999998" y2="539.48" stroke="#111" stroke-width="1.1" />
<line x1="127.24999999999999" y1="546.0799999999999" x2="131.64999999999998" y2="546.0799999999999" stroke="#111" stroke-width="1.1" />
<text x="149.2" y="555.123" font-size="8.0" font-weight="bold" text-anchor="middle" fill="#000" stroke="#000" stroke-width="0.12" >-4.9</text>
<line x1="149.2" y1="556.123" x2="149.2" y2="564.123" stroke="#111" stroke-width="1.1" />
<line x1="147.0" y1="556.123" x2="151.39999999999998" y2="556.123" stroke="#111" stroke-width="1.1" />
<line x1="147.0" y1="564.123" x2="151.39999999999998" y2="564.123" stroke="#111" stroke-width="1.1" />
<line x1="28.9" y1="465.7" x2="163.3" y2="465.7" stroke="#222" stroke-width="1.6" />
<path d="M41 546 V549 H61 V546" fill="none" stroke="#222" stroke-width="1.1"/>
<text x="52.4" y="556" font-size="6.9" font-weight="normal" text-anchor="middle" fill="#111" stroke="#111" stroke-width="0.22" >-0.9</text>
<text x="33" y="563.5" font-size="6.9" font-weight="normal" text-anchor="start" fill="#111" stroke="#111" stroke-width="0.22" >(-1.4, -0.4)<tspan font-size="4.3" dy="-2.4">†*</tspan></text>
<path d="M41 568 V571 H81.6 V568" fill="none" stroke="#222" stroke-width="1.1"/>
<text x="36" y="579.5" font-size="6.9" font-weight="normal" text-anchor="start" fill="#111" stroke="#111" stroke-width="0.22" >-1.6 (-2.2, -1.1)<tspan font-size="4.3" dy="-2.4">††</tspan></text>
<path d="M110 548.6 V551.6 H130 V548.6" fill="none" stroke="#222" stroke-width="1.1"/>
<text x="120" y="559.5" font-size="6.9" font-weight="normal" text-anchor="middle" fill="#111" stroke="#111" stroke-width="0.22" >-0.6</text>
<text x="119.2" y="567.5" font-size="6.9" font-weight="normal" text-anchor="middle" fill="#111" stroke="#111" stroke-width="0.22" >(-1.2, 0.0)</text>
<path d="M110 570.6 V573.6 H149 V570.6" fill="none" stroke="#222" stroke-width="1.1"/>
<text x="104" y="584" font-size="6.9" font-weight="normal" text-anchor="start" fill="#111" stroke="#111" stroke-width="0.22" >-1.5 (-2.2, -0.9)<tspan font-size="4.3" dy="-2.4">††</tspan></text>
<text x="158.5" y="444.2" font-size="14.8" font-weight="bold" text-anchor="start" fill="#000" stroke="#000" stroke-width="0.12" >G</text>
<text x="182" y="445" font-size="9.3" font-weight="bold" text-anchor="start" fill="#000" stroke="#000" stroke-width="0.12" >Efficacy Estimand</text>
<text x="197.6" y="458" font-size="9.3" font-weight="normal" text-anchor="middle" fill="#000" stroke="#000" stroke-width="0.22" >36 weeks</text>
<text x="266.1" y="458" font-size="9.3" font-weight="normal" text-anchor="middle" fill="#000" stroke="#000" stroke-width="0.22" >52 weeks</text>
<line x1="163.3" y1="465.2" x2="163.3" y2="581" stroke="#3a3a3a" stroke-width="1.3" />
<line x1="161.3" y1="484.96999999999997" x2="163.3" y2="484.96999999999997" stroke="#3a3a3a" stroke-width="1" />
<line x1="161.3" y1="504.24" x2="163.3" y2="504.24" stroke="#3a3a3a" stroke-width="1" />
<line x1="161.3" y1="523.51" x2="163.3" y2="523.51" stroke="#3a3a3a" stroke-width="1" />
<line x1="161.3" y1="542.78" x2="163.3" y2="542.78" stroke="#3a3a3a" stroke-width="1" />
<line x1="161.3" y1="562.05" x2="163.3" y2="562.05" stroke="#3a3a3a" stroke-width="1" />
<line x1="161.3" y1="581.3199999999999" x2="163.3" y2="581.3199999999999" stroke="#3a3a3a" stroke-width="1" />
<rect x="167.6" y="465.7" width="20.400000000000006" height="59.73700000000002" fill="#27aee3" stroke="#2a1a1a" stroke-width="1"/>
<rect x="188" y="465.7" width="20" height="77.07999999999998" fill="#fcac94" stroke="#2a1a1a" stroke-width="1"/>
<rect x="208" y="465.7" width="20" height="90.56900000000002" fill="#cc2828" stroke="#2a1a1a" stroke-width="1"/>
<text x="177.8" y="520.437" font-size="8.0" font-weight="bold" text-anchor="middle" fill="#000" stroke="#000" stroke-width="0.12" >-3.1</text>
<line x1="177.8" y1="522.1370000000001" x2="177.8" y2="528.737" stroke="#111" stroke-width="1.1" />
<line x1="175.60000000000002" y1="522.1370000000001" x2="180.0" y2="522.1370000000001" stroke="#111" stroke-width="1.1" />
<line x1="175.60000000000002" y1="528.737" x2="180.0" y2="528.737" stroke="#111" stroke-width="1.1" />
<text x="198.0" y="537.78" font-size="8.0" font-weight="bold" text-anchor="middle" fill="#000" stroke="#000" stroke-width="0.12" >-4.0</text>
<line x1="198.0" y1="539.48" x2="198.0" y2="546.0799999999999" stroke="#111" stroke-width="1.1" />
<line x1="195.8" y1="539.48" x2="200.2" y2="539.48" stroke="#111" stroke-width="1.1" />
<line x1="195.8" y1="546.0799999999999" x2="200.2" y2="546.0799999999999" stroke="#111" stroke-width="1.1" />
<text x="218.0" y="551.269" font-size="8.0" font-weight="bold" text-anchor="middle" fill="#000" stroke="#000" stroke-width="0.12" >-4.7</text>
<line x1="218.0" y1="552.969" x2="218.0" y2="559.569" stroke="#111" stroke-width="1.1" />
<line x1="215.8" y1="552.969" x2="220.2" y2="552.969" stroke="#111" stroke-width="1.1" />
<line x1="215.8" y1="559.569" x2="220.2" y2="559.569" stroke="#111" stroke-width="1.1" />
<rect x="236.2" y="465.7" width="20.19999999999999" height="67.445" fill="#069fdc" stroke="#2a1a1a" stroke-width="1"/>
<rect x="256.4" y="465.7" width="19.600000000000023" height="82.86099999999993" fill="#fc9c84" stroke="#2a1a1a" stroke-width="1"/>
<rect x="276" y="465.7" width="21" height="96.34999999999997" fill="#c00000" stroke="#2a1a1a" stroke-width="1"/>
<text x="246.29999999999998" y="528.145" font-size="8.0" font-weight="bold" text-anchor="middle" fill="#000" stroke="#000" stroke-width="0.12" >-3.5</text>
<line x1="246.29999999999998" y1="528.645" x2="246.29999999999998" y2="537.645" stroke="#111" stroke-width="1.1" />
<line x1="244.1" y1="528.645" x2="248.49999999999997" y2="528.645" stroke="#111" stroke-width="1.1" />
<line x1="244.1" y1="537.645" x2="248.49999999999997" y2="537.645" stroke="#111" stroke-width="1.1" />
<text x="266.2" y="543.5609999999999" font-size="8.0" font-weight="bold" text-anchor="middle" fill="#000" stroke="#000" stroke-width="0.12" >-4.3</text>
<line x1="266.2" y1="544.8609999999999" x2="266.2" y2="552.261" stroke="#111" stroke-width="1.1" />
<line x1="264.0" y1="544.8609999999999" x2="268.4" y2="544.8609999999999" stroke="#111" stroke-width="1.1" />
<line x1="264.0" y1="552.261" x2="268.4" y2="552.261" stroke="#111" stroke-width="1.1" />
<text x="286.5" y="557.05" font-size="8.0" font-weight="bold" text-anchor="middle" fill="#000" stroke="#000" stroke-width="0.12" >-5.0</text>
<line x1="286.5" y1="558.05" x2="286.5" y2="566.05" stroke="#111" stroke-width="1.1" />
<line x1="284.3" y1="558.05" x2="288.7" y2="558.05" stroke="#111" stroke-width="1.1" />
<line x1="284.3" y1="566.05" x2="288.7" y2="566.05" stroke="#111" stroke-width="1.1" />
<line x1="163.3" y1="465.7" x2="300" y2="465.7" stroke="#222" stroke-width="1.6" />
<path d="M176.4 550 V553 H197 V550" fill="none" stroke="#222" stroke-width="1.1"/>
<text x="187" y="560" font-size="6.9" font-weight="normal" text-anchor="middle" fill="#111" stroke="#111" stroke-width="0.22" >-0.9</text>
<text x="171" y="568" font-size="6.9" font-weight="normal" text-anchor="start" fill="#111" stroke="#111" stroke-width="0.22" >(-1.4, -0.4)<tspan font-size="4.3" dy="-2.4">†</tspan></text>
<path d="M177.4 572.6 V575.6 H216 V572.6" fill="none" stroke="#222" stroke-width="1.1"/>
<text x="174" y="584" font-size="6.9" font-weight="normal" text-anchor="start" fill="#111" stroke="#111" stroke-width="0.22" >-1.6 (-2.1, -1.1)<tspan font-size="4.3" dy="-2.4">††</tspan></text>
<path d="M246 556.6 V559.6 H267 V556.6" fill="none" stroke="#222" stroke-width="1.1"/>
<text x="256.6" y="566.5" font-size="6.9" font-weight="normal" text-anchor="middle" fill="#111" stroke="#111" stroke-width="0.22" >-0.8</text>
<text x="241" y="574" font-size="6.9" font-weight="normal" text-anchor="start" fill="#111" stroke="#111" stroke-width="0.22" >(-1.4, -0.2)<tspan font-size="4.3" dy="-2.4">†</tspan></text>
<path d="M246 574.6 V577.6 H286.6 V574.6" fill="none" stroke="#222" stroke-width="1.1"/>
<text x="241.6" y="588.5" font-size="6.9" font-weight="normal" text-anchor="start" fill="#111" stroke="#111" stroke-width="0.22" >-1.6 (-2.2, -1.0)<tspan font-size="4.3" dy="-2.4">††</tspan></text>
<text x="309.5" y="444.4" font-size="14.8" font-weight="bold" text-anchor="start" fill="#000" stroke="#000" stroke-width="0.12" >H</text>
<line x1="342.4" y1="470.5" x2="342.4" y2="571.6" stroke="#3a3a3a" stroke-width="1.3" />
<line x1="342.4" y1="571" x2="515.4" y2="571" stroke="#3a3a3a" stroke-width="1.3" />
<line x1="339.9" y1="471.0" x2="342.4" y2="471.0" stroke="#3a3a3a" stroke-width="1" />
<text x="338.29999999999995" y="473.9" font-size="8.2" font-weight="bold" text-anchor="end" fill="#000" stroke="#000" stroke-width="0.12" letter-spacing="-0.3">0.0</text>
<line x1="339.9" y1="487.67" x2="342.4" y2="487.67" stroke="#3a3a3a" stroke-width="1" />
<text x="338.29999999999995" y="490.57" font-size="8.2" font-weight="bold" text-anchor="end" fill="#000" stroke="#000" stroke-width="0.12" letter-spacing="-0.3">-1.0</text>
<line x1="339.9" y1="504.34000000000003" x2="342.4" y2="504.34000000000003" stroke="#3a3a3a" stroke-width="1" />
<text x="338.29999999999995" y="507.24" font-size="8.2" font-weight="bold" text-anchor="end" fill="#000" stroke="#000" stroke-width="0.12" letter-spacing="-0.3">-2.0</text>
<line x1="339.9" y1="521.01" x2="342.4" y2="521.01" stroke="#3a3a3a" stroke-width="1" />
<text x="338.29999999999995" y="523.91" font-size="8.2" font-weight="bold" text-anchor="end" fill="#000" stroke="#000" stroke-width="0.12" letter-spacing="-0.3">-3.0</text>
<line x1="339.9" y1="537.6800000000001" x2="342.4" y2="537.6800000000001" stroke="#3a3a3a" stroke-width="1" />
<text x="338.29999999999995" y="540.58" font-size="8.2" font-weight="bold" text-anchor="end" fill="#000" stroke="#000" stroke-width="0.12" letter-spacing="-0.3">-4.0</text>
<line x1="339.9" y1="554.35" x2="342.4" y2="554.35" stroke="#3a3a3a" stroke-width="1" />
<text x="338.29999999999995" y="557.25" font-size="8.2" font-weight="bold" text-anchor="end" fill="#000" stroke="#000" stroke-width="0.12" letter-spacing="-0.3">-5.0</text>
<line x1="339.9" y1="571.02" x2="342.4" y2="571.02" stroke="#3a3a3a" stroke-width="1" />
<text x="338.29999999999995" y="573.92" font-size="8.2" font-weight="bold" text-anchor="end" fill="#000" stroke="#000" stroke-width="0.12" letter-spacing="-0.3">-6.0</text>
<text x="342.4" y="580.2" font-size="8" font-weight="bold" text-anchor="middle" fill="#111" stroke="#111" stroke-width="0.12" >0</text>
<line x1="355.2" y1="568.5" x2="355.2" y2="571" stroke="#3a3a3a" stroke-width="0.9" />
<text x="355.2" y="580.2" font-size="8" font-weight="bold" text-anchor="middle" fill="#111" stroke="#111" stroke-width="0.12" >4</text>
<line x1="368.0" y1="568.5" x2="368.0" y2="571" stroke="#3a3a3a" stroke-width="0.9" />
<text x="368.0" y="580.2" font-size="8" font-weight="bold" text-anchor="middle" fill="#111" stroke="#111" stroke-width="0.12" >8</text>
<line x1="380.79999999999995" y1="568.5" x2="380.79999999999995" y2="571" stroke="#3a3a3a" stroke-width="0.9" />
<text x="380.79999999999995" y="580.2" font-size="8" font-weight="bold" text-anchor="middle" fill="#111" stroke="#111" stroke-width="0.12" >12</text>
<line x1="400.0" y1="568.5" x2="400.0" y2="571" stroke="#3a3a3a" stroke-width="0.9" />
<text x="400.0" y="580.2" font-size="8" font-weight="bold" text-anchor="middle" fill="#111" stroke="#111" stroke-width="0.12" >18</text>
<line x1="425.59999999999997" y1="568.5" x2="425.59999999999997" y2="571" stroke="#3a3a3a" stroke-width="0.9" />
<text x="425.59999999999997" y="580.2" font-size="8" font-weight="bold" text-anchor="middle" fill="#111" stroke="#111" stroke-width="0.12" >26</text>
<line x1="457.59999999999997" y1="568.5" x2="457.59999999999997" y2="571" stroke="#3a3a3a" stroke-width="0.9" />
<text x="457.59999999999997" y="580.2" font-size="8" font-weight="bold" text-anchor="middle" fill="#111" stroke="#111" stroke-width="0.12" >36</text>
<line x1="483.2" y1="568.5" x2="483.2" y2="571" stroke="#3a3a3a" stroke-width="0.9" />
<text x="483.2" y="580.2" font-size="8" font-weight="bold" text-anchor="middle" fill="#111" stroke="#111" stroke-width="0.12" >44</text>
<line x1="508.79999999999995" y1="568.5" x2="508.79999999999995" y2="571" stroke="#3a3a3a" stroke-width="0.9" />
<text x="508.79999999999995" y="580.2" font-size="8" font-weight="bold" text-anchor="middle" fill="#111" stroke="#111" stroke-width="0.12" >52</text>
<text x="426.5" y="591.6" font-size="7.6" font-weight="bold" text-anchor="middle" fill="#222" stroke="#222" stroke-width="0.12" >Weeks</text>
<text x="0" y="0" transform="translate(319.3,523.3) rotate(-90)" font-size="7.6" font-weight="normal" text-anchor="middle" fill="#222" stroke="#222" stroke-width="0.2">Weight change from BL (kg, LSM ± SE)</text>
<line x1="457.59999999999997" y1="488" x2="457.59999999999997" y2="571" stroke="#3a6ea0" stroke-width="0.9" stroke-dasharray="1.2,1.2"/>
<text x="457.5" y="469" font-size="6.5" font-weight="normal" text-anchor="middle" fill="#222" stroke="#222" stroke-width="0.22" >primary</text>
<text x="457.5" y="477" font-size="6.5" font-weight="normal" text-anchor="middle" fill="#222" stroke="#222" stroke-width="0.22" >end point</text>
<line x1="457.5" y1="480" x2="457.5" y2="485" stroke="#111" stroke-width="1.2" />
<path d="M454.3 484.5 L460.7 484.5 L457.5 489 Z" fill="#111"/>
<polyline points="342.40,471.00 355.20,487.67 368.00,504.34 380.80,518.51 400.00,526.01 425.60,533.51 457.60,537.68 483.20,537.68 508.80,542.68" fill="none" stroke="#f2b0a0" stroke-width="1.35"/>
<rect x="340.79999999999995" y="469.4" width="3.2" height="3.2" fill="#f2b0a0"/>
<rect x="353.59999999999997" y="486.07" width="3.2" height="3.2" fill="#f2b0a0"/>
<line x1="368.0" y1="501.34000000000003" x2="368.0" y2="507.34000000000003" stroke="#222" stroke-width="0.85" />
<line x1="366.5" y1="501.34000000000003" x2="369.5" y2="501.34000000000003" stroke="#222" stroke-width="0.85" />
<line x1="366.5" y1="507.34000000000003" x2="369.5" y2="507.34000000000003" stroke="#222" stroke-width="0.85" />
<rect x="366.4" y="502.74" width="3.2" height="3.2" fill="#f2b0a0"/>
<line x1="380.79999999999995" y1="515.5095" x2="380.79999999999995" y2="521.5095" stroke="#222" stroke-width="0.85" />
<line x1="379.29999999999995" y1="515.5095" x2="382.29999999999995" y2="515.5095" stroke="#222" stroke-width="0.85" />
<line x1="379.29999999999995" y1="521.5095" x2="382.29999999999995" y2="521.5095" stroke="#222" stroke-width="0.85" />
<rect x="379.19999999999993" y="516.9095" width="3.2" height="3.2" fill="#f2b0a0"/>
<line x1="400.0" y1="523.011" x2="400.0" y2="529.011" stroke="#222" stroke-width="0.85" />
<line x1="398.5" y1="523.011" x2="401.5" y2="523.011" stroke="#222" stroke-width="0.85" />
<line x1="398.5" y1="529.011" x2="401.5" y2="529.011" stroke="#222" stroke-width="0.85" />
<rect x="398.4" y="524.411" width="3.2" height="3.2" fill="#f2b0a0"/>
<line x1="425.59999999999997" y1="530.5125" x2="425.59999999999997" y2="536.5125" stroke="#222" stroke-width="0.85" />
<line x1="424.09999999999997" y1="530.5125" x2="427.09999999999997" y2="530.5125" stroke="#222" stroke-width="0.85" />
<line x1="424.09999999999997" y1="536.5125" x2="427.09999999999997" y2="536.5125" stroke="#222" stroke-width="0.85" />
<rect x="423.99999999999994" y="531.9125" width="3.2" height="3.2" fill="#f2b0a0"/>
<line x1="457.59999999999997" y1="534.6800000000001" x2="457.59999999999997" y2="540.6800000000001" stroke="#222" stroke-width="0.85" />
<line x1="456.09999999999997" y1="534.6800000000001" x2="459.09999999999997" y2="534.6800000000001" stroke="#222" stroke-width="0.85" />
<line x1="456.09999999999997" y1="540.6800000000001" x2="459.09999999999997" y2="540.6800000000001" stroke="#222" stroke-width="0.85" />
<rect x="455.99999999999994" y="536.08" width="3.2" height="3.2" fill="#f2b0a0"/>
<line x1="483.2" y1="534.6800000000001" x2="483.2" y2="540.6800000000001" stroke="#222" stroke-width="0.85" />
<line x1="481.7" y1="534.6800000000001" x2="484.7" y2="534.6800000000001" stroke="#222" stroke-width="0.85" />
<line x1="481.7" y1="540.6800000000001" x2="484.7" y2="540.6800000000001" stroke="#222" stroke-width="0.85" />
<rect x="481.59999999999997" y="536.08" width="3.2" height="3.2" fill="#f2b0a0"/>
<line x1="508.79999999999995" y1="539.681" x2="508.79999999999995" y2="545.681" stroke="#222" stroke-width="0.85" />
<line x1="507.29999999999995" y1="539.681" x2="510.29999999999995" y2="539.681" stroke="#222" stroke-width="0.85" />
<line x1="507.29999999999995" y1="545.681" x2="510.29999999999995" y2="545.681" stroke="#222" stroke-width="0.85" />
<rect x="507.19999999999993" y="541.081" width="3.2" height="3.2" fill="#f2b0a0"/>
<polyline points="342.40,471.00 355.20,487.67 368.00,506.01 380.80,520.18 400.00,534.35 425.60,542.68 457.60,549.35 483.20,549.35 508.80,554.35" fill="none" stroke="#c83232" stroke-width="1.35"/>
<rect x="340.79999999999995" y="469.4" width="3.2" height="3.2" fill="#c83232"/>
<rect x="353.59999999999997" y="486.07" width="3.2" height="3.2" fill="#c83232"/>
<line x1="368.0" y1="503.007" x2="368.0" y2="509.007" stroke="#222" stroke-width="0.85" />
<line x1="366.5" y1="503.007" x2="369.5" y2="503.007" stroke="#222" stroke-width="0.85" />
<line x1="366.5" y1="509.007" x2="369.5" y2="509.007" stroke="#222" stroke-width="0.85" />
<rect x="366.4" y="504.407" width="3.2" height="3.2" fill="#c83232"/>
<line x1="380.79999999999995" y1="517.1765" x2="380.79999999999995" y2="523.1765" stroke="#222" stroke-width="0.85" />
<line x1="379.29999999999995" y1="517.1765" x2="382.29999999999995" y2="517.1765" stroke="#222" stroke-width="0.85" />
<line x1="379.29999999999995" y1="523.1765" x2="382.29999999999995" y2="523.1765" stroke="#222" stroke-width="0.85" />
<rect x="379.19999999999993" y="518.5765" width="3.2" height="3.2" fill="#c83232"/>
<line x1="400.0" y1="531.346" x2="400.0" y2="537.346" stroke="#222" stroke-width="0.85" />
<line x1="398.5" y1="531.346" x2="401.5" y2="531.346" stroke="#222" stroke-width="0.85" />
<line x1="398.5" y1="537.346" x2="401.5" y2="537.346" stroke="#222" stroke-width="0.85" />
<rect x="398.4" y="532.746" width="3.2" height="3.2" fill="#c83232"/>
<line x1="425.59999999999997" y1="539.681" x2="425.59999999999997" y2="545.681" stroke="#222" stroke-width="0.85" />
<line x1="424.09999999999997" y1="539.681" x2="427.09999999999997" y2="539.681" stroke="#222" stroke-width="0.85" />
<line x1="424.09999999999997" y1="545.681" x2="427.09999999999997" y2="545.681" stroke="#222" stroke-width="0.85" />
<rect x="423.99999999999994" y="541.081" width="3.2" height="3.2" fill="#c83232"/>
<line x1="457.59999999999997" y1="546.349" x2="457.59999999999997" y2="552.349" stroke="#222" stroke-width="0.85" />
<line x1="456.09999999999997" y1="546.349" x2="459.09999999999997" y2="546.349" stroke="#222" stroke-width="0.85" />
<line x1="456.09999999999997" y1="552.349" x2="459.09999999999997" y2="552.349" stroke="#222" stroke-width="0.85" />
<rect x="455.99999999999994" y="547.749" width="3.2" height="3.2" fill="#c83232"/>
<line x1="483.2" y1="546.349" x2="483.2" y2="552.349" stroke="#222" stroke-width="0.85" />
<line x1="481.7" y1="546.349" x2="484.7" y2="546.349" stroke="#222" stroke-width="0.85" />
<line x1="481.7" y1="552.349" x2="484.7" y2="552.349" stroke="#222" stroke-width="0.85" />
<rect x="481.59999999999997" y="547.749" width="3.2" height="3.2" fill="#c83232"/>
<line x1="508.79999999999995" y1="551.35" x2="508.79999999999995" y2="557.35" stroke="#222" stroke-width="0.85" />
<line x1="507.29999999999995" y1="551.35" x2="510.29999999999995" y2="551.35" stroke="#222" stroke-width="0.85" />
<line x1="507.29999999999995" y1="557.35" x2="510.29999999999995" y2="557.35" stroke="#222" stroke-width="0.85" />
<rect x="507.19999999999993" y="552.75" width="3.2" height="3.2" fill="#c83232"/>
<polyline points="342.40,471.00 355.20,487.67 368.00,502.67 380.80,512.67 400.00,519.34 425.60,521.01 457.60,522.68 483.20,522.68 508.80,529.35" fill="none" stroke="#27a2d2" stroke-width="1.35"/>
<rect x="340.79999999999995" y="469.4" width="3.2" height="3.2" fill="#27a2d2"/>
<rect x="353.59999999999997" y="486.07" width="3.2" height="3.2" fill="#27a2d2"/>
<line x1="368.0" y1="499.673" x2="368.0" y2="505.673" stroke="#222" stroke-width="0.85" />
<line x1="366.5" y1="499.673" x2="369.5" y2="499.673" stroke="#222" stroke-width="0.85" />
<line x1="366.5" y1="505.673" x2="369.5" y2="505.673" stroke="#222" stroke-width="0.85" />
<rect x="366.4" y="501.073" width="3.2" height="3.2" fill="#27a2d2"/>
<line x1="380.79999999999995" y1="509.67499999999995" x2="380.79999999999995" y2="515.675" stroke="#222" stroke-width="0.85" />
<line x1="379.29999999999995" y1="509.67499999999995" x2="382.29999999999995" y2="509.67499999999995" stroke="#222" stroke-width="0.85" />
<line x1="379.29999999999995" y1="515.675" x2="382.29999999999995" y2="515.675" stroke="#222" stroke-width="0.85" />
<rect x="379.19999999999993" y="511.07499999999993" width="3.2" height="3.2" fill="#27a2d2"/>
<line x1="400.0" y1="516.343" x2="400.0" y2="522.343" stroke="#222" stroke-width="0.85" />
<line x1="398.5" y1="516.343" x2="401.5" y2="516.343" stroke="#222" stroke-width="0.85" />
<line x1="398.5" y1="522.343" x2="401.5" y2="522.343" stroke="#222" stroke-width="0.85" />
<rect x="398.4" y="517.7429999999999" width="3.2" height="3.2" fill="#27a2d2"/>
<line x1="425.59999999999997" y1="518.01" x2="425.59999999999997" y2="524.01" stroke="#222" stroke-width="0.85" />
<line x1="424.09999999999997" y1="518.01" x2="427.09999999999997" y2="518.01" stroke="#222" stroke-width="0.85" />
<line x1="424.09999999999997" y1="524.01" x2="427.09999999999997" y2="524.01" stroke="#222" stroke-width="0.85" />
<rect x="423.99999999999994" y="519.41" width="3.2" height="3.2" fill="#27a2d2"/>
<line x1="457.59999999999997" y1="519.677" x2="457.59999999999997" y2="525.677" stroke="#222" stroke-width="0.85" />
<line x1="456.09999999999997" y1="519.677" x2="459.09999999999997" y2="519.677" stroke="#222" stroke-width="0.85" />
<line x1="456.09999999999997" y1="525.677" x2="459.09999999999997" y2="525.677" stroke="#222" stroke-width="0.85" />
<rect x="455.99999999999994" y="521.077" width="3.2" height="3.2" fill="#27a2d2"/>
<line x1="483.2" y1="519.677" x2="483.2" y2="525.677" stroke="#222" stroke-width="0.85" />
<line x1="481.7" y1="519.677" x2="484.7" y2="519.677" stroke="#222" stroke-width="0.85" />
<line x1="481.7" y1="525.677" x2="484.7" y2="525.677" stroke="#222" stroke-width="0.85" />
<rect x="481.59999999999997" y="521.077" width="3.2" height="3.2" fill="#27a2d2"/>
<line x1="508.79999999999995" y1="526.345" x2="508.79999999999995" y2="532.345" stroke="#222" stroke-width="0.85" />
<line x1="507.29999999999995" y1="526.345" x2="510.29999999999995" y2="526.345" stroke="#222" stroke-width="0.85" />
<line x1="507.29999999999995" y1="532.345" x2="510.29999999999995" y2="532.345" stroke="#222" stroke-width="0.85" />
<rect x="507.19999999999993" y="527.745" width="3.2" height="3.2" fill="#27a2d2"/>
<text x="397.5" y="525.5" font-size="5.2" font-weight="normal" text-anchor="middle" fill="#222" stroke="#222" stroke-width="0.22" >†</text>
<text x="399.4" y="542.5" font-size="5.2" font-weight="normal" text-anchor="middle" fill="#222" stroke="#222" stroke-width="0.22" >††</text>
<text x="421.7" y="531" font-size="5.2" font-weight="normal" text-anchor="middle" fill="#222" stroke="#222" stroke-width="0.22" >††</text>
<text x="425.2" y="550.5" font-size="5.2" font-weight="normal" text-anchor="middle" fill="#222" stroke="#222" stroke-width="0.22" >††</text>
<text x="454" y="534.5" font-size="5.2" font-weight="normal" text-anchor="middle" fill="#222" stroke="#222" stroke-width="0.22" >††</text>
<text x="457.6" y="557.5" font-size="5.2" font-weight="normal" text-anchor="middle" fill="#222" stroke="#222" stroke-width="0.22" >††</text>
<text x="481.8" y="534.5" font-size="5.2" font-weight="normal" text-anchor="middle" fill="#222" stroke="#222" stroke-width="0.22" >†</text>
<text x="483.2" y="557.5" font-size="5.2" font-weight="normal" text-anchor="middle" fill="#222" stroke="#222" stroke-width="0.22" >††</text>
<text x="506.5" y="541" font-size="5.2" font-weight="normal" text-anchor="middle" fill="#222" stroke="#222" stroke-width="0.22" >†</text>
<text x="508.8" y="563.5" font-size="5.2" font-weight="normal" text-anchor="middle" fill="#222" stroke="#222" stroke-width="0.22" >††</text>
<text x="376.7" y="525" font-size="5.2" font-weight="normal" text-anchor="middle" fill="#222" stroke="#222" stroke-width="0.22" >†</text>
</svg></body></html>
